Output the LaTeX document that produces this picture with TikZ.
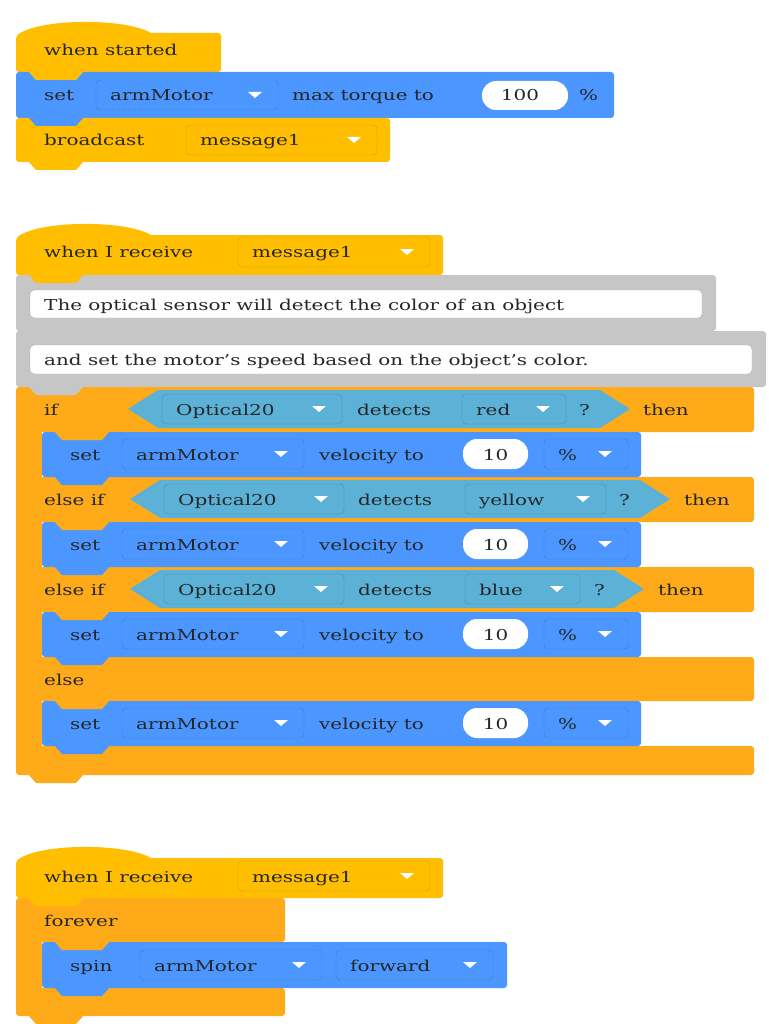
\documentclass[tikz,border=0pt]{standalone}
\usepackage{fontspec}
\setmainfont[FakeStretch=1.33]{DejaVu Serif}
\definecolor{ylw}{HTML}{FFBF00}
\definecolor{org}{HTML}{FFAB19}
\definecolor{blu}{HTML}{4C97FF}
\definecolor{bool}{HTML}{5CB1D6}
\definecolor{gry}{HTML}{C6C6C6}
\definecolor{gryd}{HTML}{AAAAAA}
\tikzset{txt/.style={anchor=west,inner sep=0pt,yshift=-2pt,text height=11pt,text depth=3pt,font=\fontsize{15}{17}\selectfont,text=black!85}}
\newcommand{\myblk}[5]{\fill[#5,rounded corners=3pt] (#1,#2) rectangle (#3,#4);}
\newcommand{\mytab}[3]{\fill[#3] (#1+12,#2-1) -- (#1+20,#2+8) -- (#1+60,#2+8) -- (#1+68,#2-1) -- cycle;}
\newcommand{\myhat}[5]{\fill[#5,rounded corners=3pt] (#1,#4) -- (#1,#2+6) [sharp corners] .. controls (#1+25,#2-12) and (#1+110,#2-12) .. (#1+135,#2+3) [rounded corners=3pt] -- (#3,#2+3) -- (#3,#4) -- cycle;}
\newcommand{\mydd}[6]{\draw[#5!80!black,fill=#5,rounded corners=4pt] (#1,#3-15) rectangle (#2,#3+15);
 \node[txt] (#6) at (#1+14,#3) {#4};
 \fill[white] (#2-30,#3-3) -- (#2-16,#3-3) -- (#2-23,#3+3) -- cycle;}
\newcommand{\myov}[4]{\fill[white,rounded corners=14pt] (#1,#3-15) rectangle (#2,#3+15);
 \node[txt,anchor=center] (#4) at ({(#1+#2)/2},#3) {10};}
\newcommand{\myboolb}[3]{\fill[bool] (#1,#3) -- (#1+30,#3-19) -- (#2-30,#3-19) -- (#2,#3) -- (#2-30,#3+19) -- (#1+30,#3+19) -- cycle;}
\begin{document}
\begin{tikzpicture}[x=1pt,y=-1pt]
\useasboundingbox (0,0) rectangle (768,1024);
\fill[white] (0,0) rectangle (768,1024);
% ===== stack 1
\myhat{16}{30}{221}{72}{ylw}
\myblk{16}{72}{614}{118}{blu}
\myblk{16}{118}{390}{162}{ylw}
\mytab{16}{72}{ylw}\mytab{16}{118}{blu}\mytab{16}{162}{ylw}
\node[txt] (ws) at (44,50) {when started};
\node[txt] (s1) at (44,95) {set};
\mydd{96}{278}{95}{armMotor}{blu}{m1}
\node[txt] (mt) at (292,95) {max torque to};
\fill[white,rounded corners=14pt] (482,81) rectangle (568,110);
\node[txt,anchor=center] (hun) at (520,95) {100};
\node[txt] (pc) at (579,95) {\%};
\node[txt] (bc) at (44,140) {broadcast};
\mydd{186}{377}{140}{message1}{ylw}{msg1}
% ===== stack 2
\myhat{16}{232}{443}{275}{ylw}
\myblk{16}{275}{716}{331}{gry}
\myblk{16}{331}{766}{387}{gry}
\fill[org,rounded corners=3pt] (16,387) rectangle (754,432);
\fill[org] (16,420) rectangle (42,760);
\fill[org,rounded corners=3pt] (16,477) rectangle (754,522);
\fill[org,rounded corners=3pt] (16,567) rectangle (754,612);
\fill[org,rounded corners=3pt] (16,657) rectangle (754,701);
\fill[org,rounded corners=3pt] (16,746) rectangle (754,775);
\foreach \yy in {432,522,612,701}{\myblk{42}{\yy}{641}{\yy+45}{blu}}
\mytab{16}{275}{ylw}\mytab{16}{331}{gry}\mytab{16}{387}{gry}\mytab{16}{775}{org}
\foreach \yy in {432,522,612,701}{\mytab{42}{\yy}{org}\mytab{42}{\yy+45}{blu}}
\draw[gryd,fill=white,rounded corners=4pt] (30,290) rectangle (702,318);
\draw[gryd,fill=white,rounded corners=4pt] (30,345) rectangle (752,374);
\node[txt] (wr) at (44,252) {when I receive};
\mydd{238}{430}{252}{message1}{ylw}{msg2}
\node[txt] (c1) at (44,304) {The optical sensor will detect the color of an object};
\node[txt] (c2) at (44,359) {and set the motor's speed based on the object's color.};
\node[txt] (if) at (44,409) {if};
\myboolb{128}{630}{409}
\mydd{162}{342}{409}{Optical20}{bool}{o1}
\node[txt] (d1) at (357,409) {detects};
\mydd{462}{566}{409}{red}{bool}{r1}
\node[txt] (q1) at (579,409) {?};
\node[txt] (t1) at (643,409) {then};
\node[txt] (ei1) at (44,499) {else if};
\myboolb{130}{670}{499}
\mydd{164}{344}{499}{Optical20}{bool}{o2}
\node[txt] (d2) at (358,499) {detects};
\mydd{465}{606}{499}{yellow}{bool}{r2}
\node[txt] (q2) at (619,499) {?};
\node[txt] (t2) at (684,499) {then};
\node[txt] (ei2) at (44,589) {else if};
\myboolb{130}{644}{589}
\mydd{164}{344}{589}{Optical20}{bool}{o3}
\node[txt] (d3) at (358,589) {detects};
\mydd{465}{580}{589}{blue}{bool}{r3}
\node[txt] (q3) at (594,589) {?};
\node[txt] (t3) at (658,589) {then};
\node[txt] (el) at (44,679) {else};
\foreach \yy/\nm in {454/a,544/b,634/c,723/d}{
 \node[txt] (s\nm) at (70,\yy) {set};
 \mydd{122}{304}{\yy}{armMotor}{blu}{am\nm}
 \node[txt] (v\nm) at (319,\yy) {velocity to};
 \myov{463}{528}{\yy}{ten\nm}
 \mydd{544}{628}{\yy}{\%}{blu}{p\nm}}
% ===== stack 3
\myhat{16}{855}{443}{898}{ylw}
\fill[org,rounded corners=3pt] (16,898) rectangle (285,942);
\fill[org] (16,930) rectangle (42,1000);
\fill[org,rounded corners=3pt] (16,988) rectangle (285,1016);
\myblk{42}{942}{507}{988}{blu}
\mytab{16}{898}{ylw}\mytab{42}{942}{org}\mytab{42}{988}{blu}\mytab{16}{1016}{org}
\node[txt] (wr3) at (44,876) {when I receive};
\mydd{238}{430}{876}{message1}{ylw}{msg3}
\node[txt] (fe) at (44,920) {forever};
\node[txt] (sp) at (70,965) {spin};
\mydd{140}{322}{965}{armMotor}{blu}{am3}
\mydd{336}{493}{965}{forward}{blu}{fw}
\end{tikzpicture}
\end{document}
